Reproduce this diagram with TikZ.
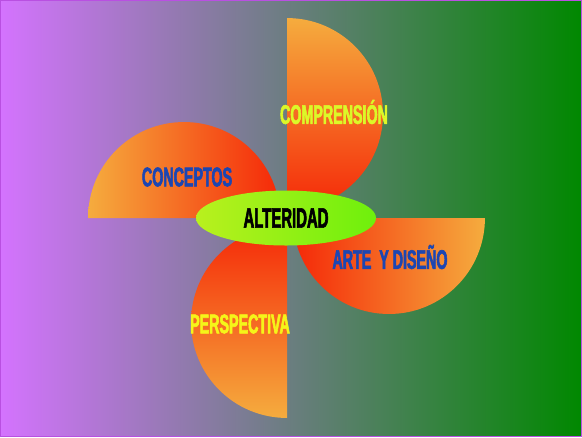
\documentclass[tikz,border=0pt]{standalone}
\usepackage{fontspec}
\usetikzlibrary{shapes.geometric}
\newfontfamily\petalfont[FakeStretch=0.53,FakeBold=2]{Liberation Sans Bold}
\definecolor{bgviolet}{RGB}{212,115,254}
\definecolor{bgmid}{RGB}{100,128,140}
\definecolor{bggreen}{RGB}{0,136,0}
\definecolor{bgframe}{RGB}{185,80,225}
\definecolor{petallight}{RGB}{245,172,62}
\definecolor{petalmid}{RGB}{242,58,15}
\definecolor{petalred}{RGB}{245,40,8}
\definecolor{hubleft}{RGB}{185,240,30}
\definecolor{hubright}{RGB}{110,240,12}
\definecolor{labelblue}{RGB}{28,70,178}
\definecolor{labelyellow}{RGB}{245,245,25}
\definecolor{labellime}{RGB}{220,248,40}
\begin{document}
\begin{tikzpicture}[x=0.03cm,y=0.03cm]
\tikzstyle{petal}=[draw=none]
\tikzstyle{label}=[font=\petalfont\fontsize{23}{23}\selectfont, inner sep=0pt]
\tikzstyle{hub}=[ellipse, draw=none, minimum width=5.4cm, minimum height=1.65cm, left color=hubleft, right color=hubright]

% Background
\shade[left color=bgviolet, middle color=bgmid, right color=bggreen] (0,0) rectangle (582,437);
\draw[bgframe, line width=1pt] (0.5,0.5) rectangle (581.5,436.5);

% Petals
\draw[petal, top color=petallight, middle color=petalmid, bottom color=petalred] (287,419) arc[start angle=90, end angle=-90, radius=96] -- cycle;
\draw[petal, left color=petallight, middle color=petalmid, right color=petalred] (88,219) arc[start angle=180, end angle=0, radius=96] -- cycle;
\draw[petal, left color=petalred, middle color=petalmid, right color=petallight] (293,219) arc[start angle=180, end angle=360, radius=96] -- cycle;
\draw[petal, top color=petalred, middle color=petalmid, bottom color=petallight] (287,211) arc[start angle=90, end angle=270, radius=96] -- cycle;

% Hub
\node[hub, label, font=\petalfont\fontsize{24}{24}\selectfont] (alteridad) at (286,219) {ALTERIDAD};

% Labels
\node[label, text=labellime] (comprension) at (334,325) {COMPRENSIÓN};
\node[label, text=labelblue] (conceptos) at (187,260) {CONCEPTOS};
\node[label, text=labelblue] (arte) at (390,180) {ARTE\ \ Y DISEÑO};
\node[label, text=labelyellow] (perspectiva) at (240,113) {PERSPECTIVA};
\end{tikzpicture}
\end{document}
